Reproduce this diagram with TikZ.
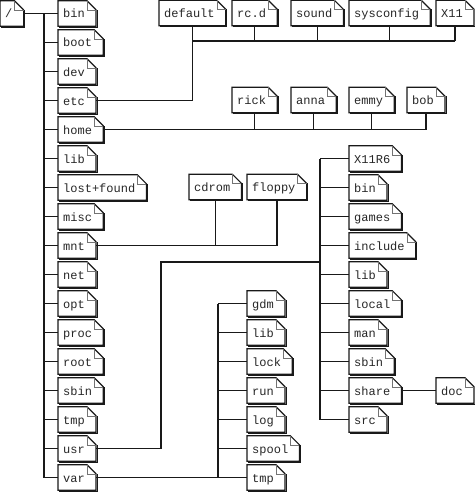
\documentclass[tikz,border=0pt]{standalone}
\usepackage{fontspec}
\newfontfamily\monof{Liberation Mono}
\begin{document}
\begin{tikzpicture}[x=1pt,y=-1pt,
  fb/.style={anchor=west, inner xsep=0pt, inner ysep=0pt, text height=17pt, text depth=8pt,
    font=\monof\fontsize{12}{12}\selectfont, text=black!85,
    execute at begin node={\kern5pt}, execute at end node={\kern11pt}},
  conn/.style={line width=1.4pt, black!90},
  outl/.style={line width=1.2pt, black!90, line join=miter},
  shad/.style={line width=1pt, black!90},
  fold/.style={line width=0.5pt, black!55}]
\useasboundingbox (0,0) rectangle (474,503);

% root and first level
\node[fb] (root) at (0,13.5) {/};
\node[fb] (bin) at (58,13.5) {bin};
\node[fb] (boot) at (58,42.5) {boot};
\node[fb] (dev) at (58,71.5) {dev};
\node[fb] (etc) at (58,100.5) {etc};
\node[fb] (home) at (58,129.5) {home};
\node[fb] (lib) at (58,158.5) {lib};
\node[fb] (lost) at (58,187.5) {lost+found};
\node[fb] (misc) at (58,216.5) {misc};
\node[fb] (mnt) at (58,245.5) {mnt};
\node[fb] (net) at (58,274.5) {net};
\node[fb] (opt) at (58,303.5) {opt};
\node[fb] (proc) at (58,332.5) {proc};
\node[fb] (rootd) at (58,361.5) {root};
\node[fb] (sbin) at (58,390.5) {sbin};
\node[fb] (tmp) at (58,419.5) {tmp};
\node[fb] (usr) at (58,448.5) {usr};
\node[fb] (var) at (58,477.5) {var};

% etc children
\node[fb] (default) at (159,13) {default};
\node[fb] (rcd) at (232,13) {rc.d};
\node[fb] (sound) at (291,13) {sound};
\node[fb] (sysconfig) at (349,13) {sysconfig};
\node[fb] (xeleven) at (436,13) {X11};

% home children
\node[fb] (rick) at (232,100) {rick};
\node[fb] (anna) at (291,100) {anna};
\node[fb] (emmy) at (349,100) {emmy};
\node[fb] (bob) at (407,100) {bob};

% mnt children
\node[fb] (cdrom) at (189,187) {cdrom};
\node[fb] (floppy) at (247,187) {floppy};

% usr children
\node[fb] (x11r6) at (349,158.5) {X11R6};
\node[fb] (ubin) at (349,187.5) {bin};
\node[fb] (games) at (349,216.5) {games};
\node[fb] (include) at (349,245.5) {include};
\node[fb] (ulib) at (349,274.5) {lib};
\node[fb] (local) at (349,303.5) {local};
\node[fb] (man) at (349,332.5) {man};
\node[fb] (usbin) at (349,361.5) {sbin};
\node[fb] (share) at (349,390.5) {share};
\node[fb] (src) at (349,419.5) {src};
\node[fb] (doc) at (436,390.5) {doc};

% var children
\node[fb] (gdm) at (247,303.5) {gdm};
\node[fb] (vlib) at (247,332.5) {lib};
\node[fb] (lock) at (247,361.5) {lock};
\node[fb] (run) at (247,390.5) {run};
\node[fb] (log) at (247,419.5) {log};
\node[fb] (spool) at (247,448.5) {spool};
\node[fb] (vtmp) at (247,477.5) {tmp};

% folder-note outlines
\foreach \n in {root,bin,boot,dev,etc,home,lib,lost,misc,mnt,net,opt,proc,rootd,sbin,tmp,usr,var,
  default,rcd,sound,sysconfig,xeleven,rick,anna,emmy,bob,cdrom,floppy,
  x11r6,ubin,games,include,ulib,local,man,usbin,share,src,doc,gdm,vlib,lock,run,log,spool,vtmp}{
  \draw[outl] (\n.south west) -- (\n.north west) -- ([xshift=-9pt]\n.north east)
    -- ([yshift=-9pt]\n.north east) -- (\n.south east) -- cycle;
  \draw[shad] ([shift={(1pt,-1pt)}]\n.south west) -- ([shift={(1pt,-1pt)}]\n.south east)
    -- ([shift={(1pt,-9pt)}]\n.north east);
  \draw[fold] ([xshift=-9pt]\n.north east) |- ([yshift=-9pt]\n.north east);
}

% main trunk
\coordinate (T) at (44,0);
\draw[conn] (root.east) -- (bin.west);
\draw[conn] (bin.west -| T) -- (var.west -| T);
\foreach \n in {boot,dev,etc,home,lib,lost,misc,mnt,net,opt,proc,rootd,sbin,tmp,usr,var}
  \draw[conn] (\n.west -| T) -- (\n.west);

% etc
\coordinate (EB) at (0,41);
\draw[conn] (etc.east) -| (default.south);
\draw[conn] (default.south |- EB) -- (xeleven.south |- EB);
\foreach \n in {rcd,sound,sysconfig,xeleven}
  \draw[conn] (\n.south) -- (\n.south |- EB);

% home
\draw[conn] (home.east) -| (bob.south);
\foreach \n in {rick,anna,emmy}
  \draw[conn] (\n.south) -- (\n.south |- home.east);

% mnt
\draw[conn] (mnt.east) -| (floppy.south);
\draw[conn] (cdrom.south) -- (cdrom.south |- mnt.east);

% usr
\coordinate (UT) at (320,0);
\coordinate (UJ) at (161,262);
\draw[conn] (usr.east) -| (UJ) -- (UJ -| UT);
\draw[conn] (x11r6.west -| UT) -- (src.west -| UT);
\foreach \n in {x11r6,ubin,games,include,ulib,local,man,usbin,share,src}
  \draw[conn] (\n.west -| UT) -- (\n.west);
\draw[conn] (share.east) -- (doc.west);

% var
\coordinate (VT) at (218,0);
\draw[conn] (var.east) -- (vtmp.west);
\draw[conn] (gdm.west -| VT) -- (vtmp.west -| VT);
\foreach \n in {gdm,vlib,lock,run,log,spool}
  \draw[conn] (\n.west -| VT) -- (\n.west);
\end{tikzpicture}
\end{document}
